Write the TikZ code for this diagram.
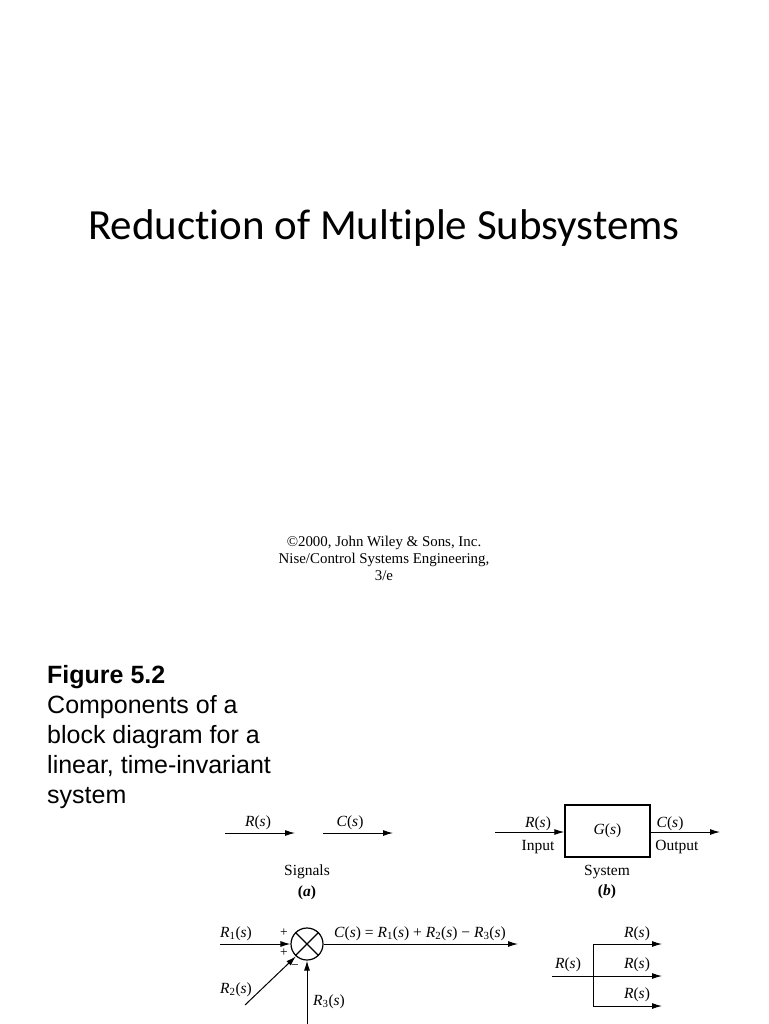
\documentclass[tikz,border=0pt]{standalone}
\usepackage{fontspec}
\setmainfont{Liberation Serif}
\newfontfamily\titlefont[Ligatures=NoCommon]{Carlito}
\newfontfamily\capfont{Liberation Sans}
\usetikzlibrary{arrows.meta}
\newcommand{\fs}[1]{\textit{#1}(\textit{s})}
\newcommand{\fsi}[2]{\textit{#1}\textsubscript{#2}(\textit{s})}

\begin{document}
\begin{tikzpicture}[x=1pt,y=-1pt,
  sig/.style={-{Latex[length=10pt,width=6pt]},line width=1pt},
  lbl/.style={font=\fontsize{15.5}{17}\selectfont,inner sep=0pt},
  sgn/.style={font=\fontsize{13.5}{13.5}\selectfont,inner sep=0pt}]
  \useasboundingbox (0,0) rectangle (768,1024);

  % title and caption
  \draw (384,240) node[anchor=base,inner sep=0pt,font=\titlefont\fontsize{43}{50}\selectfont] (title) {Reduction of Multiple Subsystems};
  \draw (384,558) node[align=center,inner sep=0pt,font=\fontsize{14.9}{17}\selectfont] (credit) {\textcopyright2000, John Wiley \& Sons, Inc.\\Nise/Control Systems Engineering,\\3/e};
  \draw (47,665) node[anchor=north west,align=left,inner sep=0pt,font=\capfont\fontsize{25}{30}\selectfont] (caption) {\textbf{Figure 5.2}\\Components of a\\block diagram for a\\linear, time-invariant\\system};

  % (a) signals
  \coordinate (a1) at (225,833);
  \coordinate (a2) at (295,833);
  \coordinate (a3) at (323,833);
  \coordinate (a4) at (393,833);
  \draw (258,823) node[lbl] (ra) {\fs{R}};
  \draw (350,823) node[lbl] (ca) {\fs{C}};
  \draw (307,872) node[lbl] (signals) {Signals};
  \draw (307,893) node[lbl] (tagA) {\textbf{(\textit{a})}};
  \path[sig] (a1) edge (a2);
  \path[sig] (a3) edge (a4);

  % (b) system
  \draw (607.5,831) node[draw,line width=1.4pt,minimum width=85pt,minimum height=52pt,lbl] (gs) {\fs{G}};
  \coordinate (bin) at (495,832);
  \coordinate (bout) at (720,832);
  \draw (538,824) node[lbl] (rb) {\fs{R}};
  \draw (538,847) node[lbl] (input) {Input};
  \draw (670,824) node[lbl] (cb) {\fs{C}};
  \draw (677,847) node[lbl] (output) {Output};
  \draw (607,872) node[lbl] (system) {System};
  \draw (607,892) node[lbl] (tagB) {\textbf{(\textit{b})}};
  \path[sig] (bin) edge (gs.west |- bin);
  \path[sig] (gs.east |- bout) edge (bout);

  % (c) summing junction
  \draw (307,944) node[circle,draw,line width=1.2pt,minimum size=32pt,inner sep=0pt] (sum) {};
  \draw[line width=1.2pt] (sum.45) -- (sum.225) (sum.135) -- (sum.315);
  \coordinate (c1) at (220,944);
  \coordinate (c2) at (518,944);
  \coordinate (c3) at (245,1005);
  \coordinate (c4) at (307,1024);
  \draw (236,934) node[lbl] (r1) {\fsi{R}{1}};
  \draw (420,934) node[lbl] (cc) {\fs{C} = \fsi{R}{1} + \fsi{R}{2} − \fsi{R}{3}};
  \draw (236,990) node[lbl] (r2) {\fsi{R}{2}};
  \draw (329,1002) node[lbl] (r3) {\fsi{R}{3}};
  \draw (284,933) node[sgn] (p1) {+};
  \draw (284,953) node[sgn] (p2) {+};
  \draw (295,967) node[sgn] (m3) {−};
  \path[sig] (c1) edge (sum.west);
  \path[sig] (sum.east) edge (c2);
  \path[sig] (c3) edge (sum.228);
  \path[sig] (c4) edge (sum.south);

  % (d) pickoff point
  \coordinate (d1) at (552,976);
  \coordinate (d2) at (662,976);
  \coordinate (dtop) at (593,944);
  \coordinate (dbot) at (593,1006);
  \coordinate (d3) at (662,944);
  \coordinate (d4) at (662,1006);
  \draw (568,965) node[lbl] (rin) {\fs{R}};
  \draw (637,934) node[lbl] (rtop) {\fs{R}};
  \draw (637,965) node[lbl] (rmid) {\fs{R}};
  \draw (637,995) node[lbl] (rbot) {\fs{R}};
  \path[sig] (d1) edge (d2);
  \draw[line width=1pt] (dtop) -- (dbot);
  \path[sig] (dtop) edge (d3);
  \path[sig] (dbot) edge (d4);
\end{tikzpicture}
\end{document}
